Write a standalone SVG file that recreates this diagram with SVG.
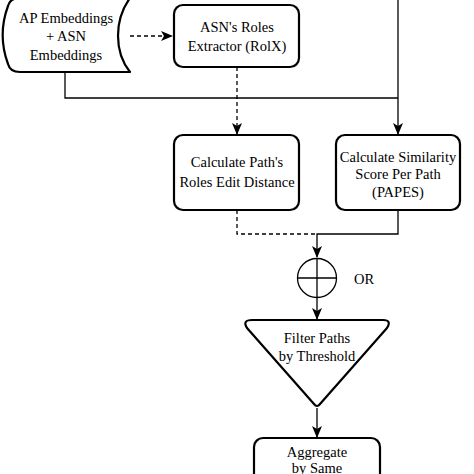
<svg xmlns="http://www.w3.org/2000/svg" width="474" height="474" viewBox="0 0 474 474">
<style>
.node{fill:#fff;stroke:#000;stroke-width:2.2;stroke-linejoin:round}
.t{font-size:14.5px;fill:#000;text-anchor:middle}
.c{fill:none;stroke:#000;stroke-width:1.3}
.d{stroke-dasharray:4 3}
</style>
<defs>
<marker id="ah" markerUnits="userSpaceOnUse" markerWidth="12" markerHeight="10" viewBox="0 0 12 10" refX="11" refY="5" orient="auto">
<path d="M0,0 L12,5 L0,10 L3,5 Z" fill="#000"/>
</marker>
</defs>
<rect width="474" height="474" fill="#fff"/>
<g id="connectors">
<path class="c d" d="M130,36 H172" marker-end="url(#ah)"/>
<path class="c" d="M65,72 V98 H398"/>
<path class="c" d="M398,-2 V134" marker-end="url(#ah)"/>
<path class="c d" d="M237,67 V134" marker-end="url(#ah)"/>
<path class="c d" d="M237,210 V234 H317"/>
<path class="c" d="M398,210 V234 H317 V257" marker-end="url(#ah)"/>
<path class="c" d="M317,298 V319" marker-end="url(#ah)"/>
<path class="c" d="M317,408 V437" marker-end="url(#ah)"/>
</g>
<g id="embeddings">
<path class="node" d="M20,-2 H130 C114,20 114,52 130,72 H20 Q10,72 8,64 C1,45 1,25 8,6 Q10,-2 20,-2 Z"/>
<text class="t" font-family="Liberation Serif" x="66" y="23">AP Embeddings</text>
<text class="t" font-family="Liberation Serif" x="66" y="41">+ ASN</text>
<text class="t" font-family="Liberation Serif" x="66" y="60">Embeddings</text>
</g>
<g id="rolx">
<rect class="node" x="174" y="5" width="125" height="62" rx="9"/>
<text class="t" font-family="Liberation Serif" x="237" y="32">ASN's Roles</text>
<text class="t" font-family="Liberation Serif" x="237" y="51">Extractor (RolX)</text>
</g>
<g id="editdist">
<rect class="node" x="174" y="135" width="125" height="75" rx="9"/>
<text class="t" font-family="Liberation Serif" x="237" y="167">Calculate Path's</text>
<text class="t" font-family="Liberation Serif" x="237" y="187">Roles Edit Distance</text>
</g>
<g id="papes">
<rect class="node" x="336" y="135" width="124" height="75" rx="9"/>
<text class="t" font-family="Liberation Serif" x="398" y="162">Calculate Similarity</text>
<text class="t" font-family="Liberation Serif" x="398" y="179">Score Per Path</text>
<text class="t" font-family="Liberation Serif" x="398" y="197">(PAPES)</text>
</g>
<g id="or">
<circle cx="317" cy="278" r="19.5" fill="#fff" stroke="#000" stroke-width="1.3"/>
<path class="c" d="M297.5,278 H336.5 M317,258.5 V297.5"/>
<text class="t" font-family="Liberation Serif" x="364" y="284" font-size="15">OR</text>
</g>
<g id="filter">
<path class="node" d="M252,320 H383 Q392,320 387,328 L320,404 Q317,408 314,404 L247,328 Q242,320 252,320 Z"/>
<text class="t" font-family="Liberation Serif" x="317" y="343">Filter Paths</text>
<text class="t" font-family="Liberation Serif" x="317" y="361">by Threshold</text>
</g>
<g id="aggregate">
<rect class="node" x="254" y="438" width="126" height="50" rx="9"/>
<text class="t" font-family="Liberation Serif" x="317" y="457">Aggregate</text>
<text class="t" font-family="Liberation Serif" x="317" y="473">by Same</text>
</g>
</svg>
